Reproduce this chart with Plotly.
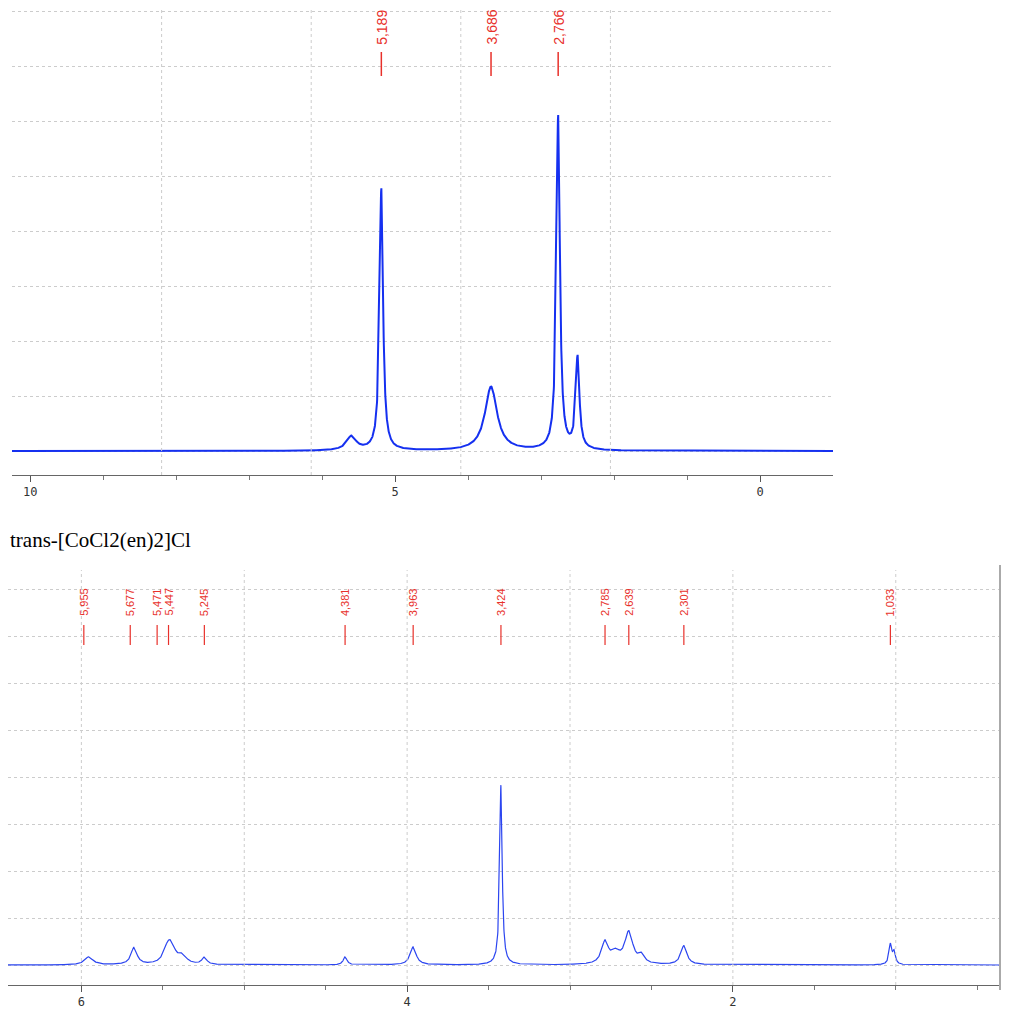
import numpy as np
import plotly.graph_objects as go

# Top spectrum peaks (ppm, height above baseline, half-width ppm)
top_pos = [5.60, 5.189, 3.686, 2.766, 2.50]
top_h = [14, 262, 64, 334, 92]
top_w = [0.08, 0.028, 0.10, 0.028, 0.03]
top_labels = ["5,189", "3,686", "2,766"]
top_label_x = [5.189, 3.686, 2.766]

# Bottom spectrum peaks
bot_pos = [5.955, 5.677, 5.471, 5.447, 5.38, 5.245, 4.381, 3.963, 3.424, 2.785, 2.72, 2.639, 2.56, 2.301, 1.033, 1.01]
bot_h = [8, 17, 14, 14, 8, 7, 8, 18, 180, 22, 10, 32, 8, 19, 20, 12]
bot_w = [0.03, 0.022, 0.03, 0.03, 0.03, 0.018, 0.014, 0.022, 0.009, 0.025, 0.03, 0.03, 0.02, 0.022, 0.01, 0.01]
bot_labels = ["5,955", "5,677", "5,471", "5,447", "5,245", "4,381", "3,963", "3,424", "2,785", "2,639", "2,301", "1,033"]
bot_label_x = [5.985, 5.70, 5.535, 5.465, 5.245, 4.381, 3.963, 3.424, 2.785, 2.639, 2.301, 1.033]

def spectrum(x, pos, h, w):
    y = np.zeros_like(x)
    for p, a, g in zip(pos, h, w):
        y += a * g**2 / ((x - p)**2 + g**2)
    return y

O = 8  # page offset
W, H = 1024, 1017

xt = np.linspace(-1.0, 10.25, 6000)
yt = spectrum(xt, top_pos, top_h, top_w)
xb = np.linspace(0.36, 6.5, 6000)
yb = spectrum(xb, bot_pos, bot_h, bot_w)

fig = go.Figure()
fig.add_trace(go.Scatter(x=xt, y=yt, mode="lines", line=dict(color="#1530f0", width=2), xaxis="x", yaxis="y"))
fig.add_trace(go.Scatter(x=xb, y=yb, mode="lines", line=dict(color="#2b45f0", width=1.2), xaxis="x2", yaxis="y2"))

grid = dict(showgrid=True, gridcolor="#cccccc", griddash="dot", gridwidth=1)
tickfont = dict(family="DejaVu Sans Mono", size=12, color="#333")
fig.update_layout(
    width=W, height=H, margin=dict(l=0, r=0, t=0, b=0),
    paper_bgcolor="white", plot_bgcolor="white", showlegend=False,
    xaxis=dict(domain=[(12-O)/W, (833-O)/W], range=[10.25, -1.0], anchor="y",
               tickvals=[10, 5, 0], ticks="outside", ticklen=6, tickcolor="#555",
               minor=dict(tickvals=[9, 8, 7, 6, 4, 3, 2, 1], ticks="outside", ticklen=4, tickcolor="#777"),
               showline=True, linecolor="#666", tickfont=tickfont, zeroline=False,
               showgrid=False),
    yaxis=dict(domain=[1-(475-O)/H, 1], range=[-32+O, 443], anchor="x", showticklabels=False, zeroline=False,
               dtick=55, **grid),
    xaxis2=dict(domain=[0, (1000-O)/W], range=[6.5-O/161.75, 0.36], anchor="y2",
                tickvals=[6, 4, 2], ticks="outside", ticklen=6, tickcolor="#555",
                minor=dict(tickvals=[5.5, 5, 4.5, 3.5, 3, 2.5, 1.5, 1, 0.5], ticks="outside", ticklen=4, tickcolor="#777"),
                showline=True, linecolor="#666", tickfont=tickfont, zeroline=False,
                showgrid=False),
    yaxis2=dict(domain=[1-(985-O)/H, 1-(570-O)/H], range=[-20, 395], anchor="x2",
                showticklabels=False, zeroline=False, dtick=47, **grid),
)

for v in [8.2, 6.15, 4.1, 2.05]:
    fig.add_shape(type="line", xref="x", yref="paper", x0=v, x1=v, y0=1-(475-O)/H, y1=1,
                  line=dict(color="#cccccc", dash="dot", width=1))
for v in [6.0, 5.0, 4.0, 3.0, 2.0, 1.0]:
    fig.add_shape(type="line", xref="x2", yref="paper", x0=v, x1=v, y0=1-(985-O)/H, y1=1-(570-O)/H,
                  line=dict(color="#cccccc", dash="dot", width=1))
fig.add_shape(type="line", xref="paper", yref="paper", x0=(1000-O)/W, x1=(1000-O)/W,
              y0=1-(990-O)/H, y1=1-(565-O)/H, line=dict(color="#aaaaaa", width=2))

red = "#e8302a"
for lab, lx in zip(top_labels, top_label_x):
    fig.add_annotation(x=lx, xref="x", y=1-(6-O)/H if O < 6 else 1, yref="paper", text=lab, textangle=-90,
                       showarrow=False, yanchor="top", font=dict(family="Arial", size=14, color=red))
    fig.add_shape(type="line", xref="x", yref="paper", x0=lx, x1=lx, y0=1-(52-O)/H, y1=1-(76-O)/H,
                  line=dict(color=red, width=1.5))
for lab, lx in zip(bot_labels, bot_label_x):
    fig.add_annotation(x=lx, xref="x2", y=1-(586-O)/H, yref="paper", text=lab, textangle=-90,
                       showarrow=False, yanchor="top", font=dict(family="Arial", size=11, color=red))
    fig.add_shape(type="line", xref="x2", yref="paper", x0=lx, x1=lx, y0=1-(625-O)/H, y1=1-(645-O)/H,
                  line=dict(color=red, width=1.2))

fig.add_annotation(x=0, xref="paper", y=1-(540-O)/H, yref="paper", text="trans-[CoCl2(en)2]Cl",
                   showarrow=False, xanchor="left", yanchor="middle",
                   font=dict(family="Liberation Serif", size=21, color="black"))

fig.write_html("out.html")
